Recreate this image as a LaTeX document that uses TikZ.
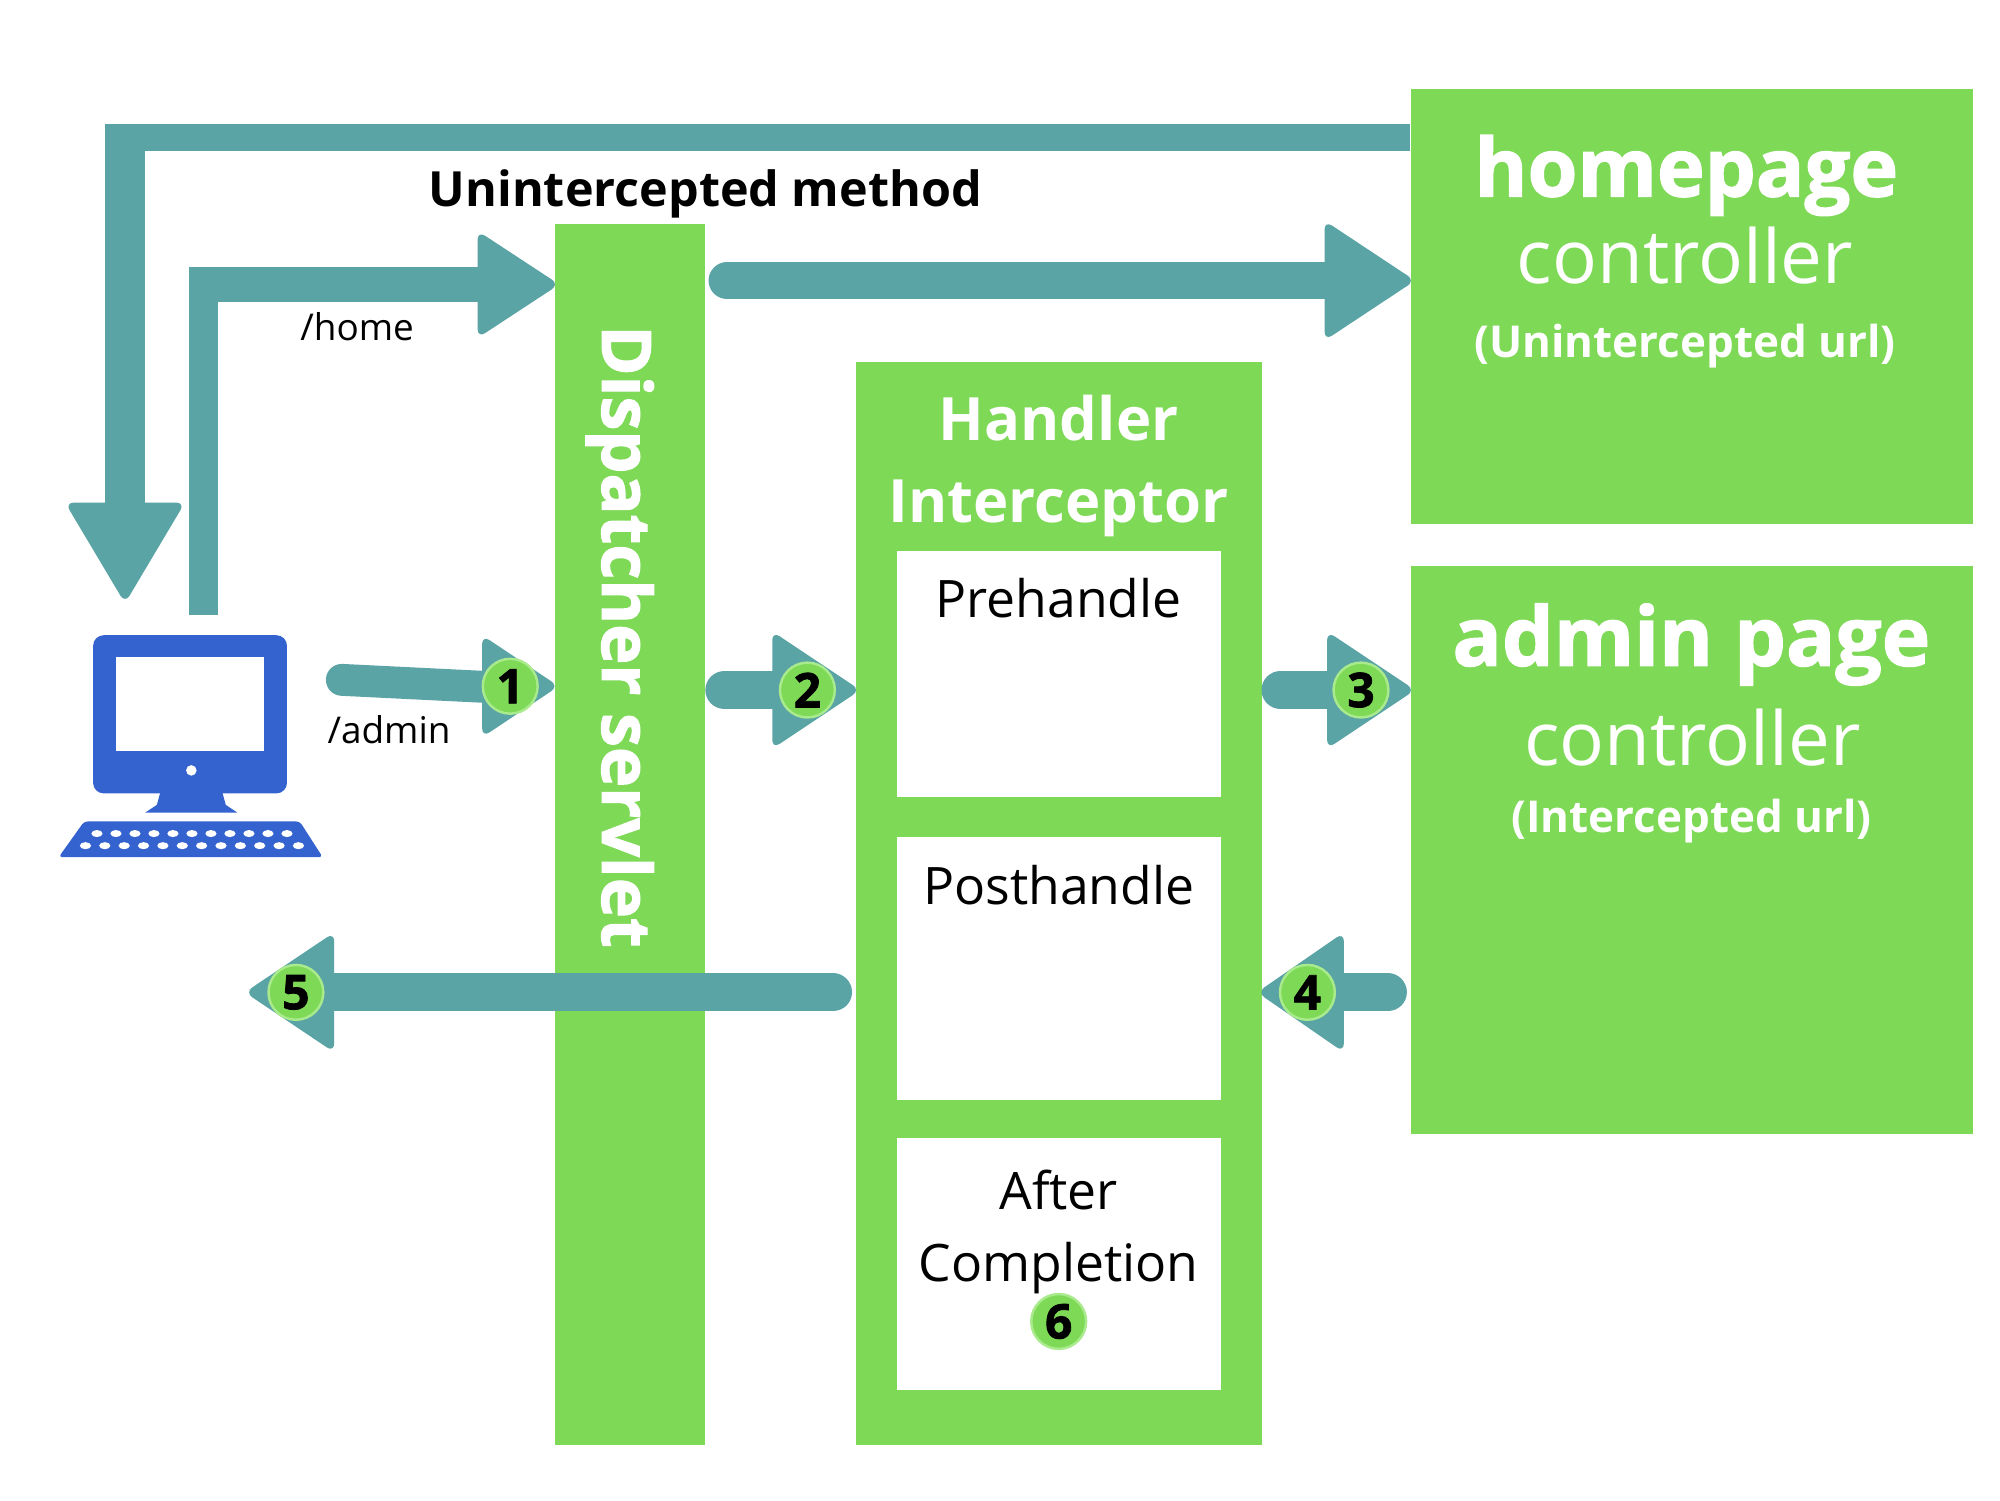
\documentclass[tikz,border=0pt]{standalone}
\usepackage{fontspec}
\setmainfont{Open Sans}
\newfontfamily\heavyfont{Open Sans}[BoldFeatures={FakeBold=1.6}]
\usetikzlibrary{fit,calc}
\definecolor{grn}{HTML}{7ED957}
\definecolor{tealc}{HTML}{5AA4A5}
\definecolor{pcblue}{HTML}{3462CF}
\definecolor{ringc}{HTML}{A8EA8C}
\newcommand\upx{0.36292pt}
\newcommand\fsz[1]{\fontsize{#1pt}{#1pt}\selectfont}
% right/left/down pointing arrow heads: tip, length, half width
\newcommand\headR[3]{\fill[arrhead] ($(#1)+(-#2-2,-#3-2)$) -- ($(#1)+(4,0)$) -- ($(#1)+(-#2-2,#3+2)$) -- cycle;}
\newcommand\headL[3]{\fill[arrhead] ($(#1)+(#2+2,-#3-2)$) -- ($(#1)+(-4,0)$) -- ($(#1)+(#2+2,#3+2)$) -- cycle;}
\newcommand\headD[3]{\fill[arrhead] ($(#1)+(-#3-2,-#2-2)$) -- ($(#1)+(0,4)$) -- ($(#1)+(#3+2,-#2-2)$) -- cycle;}
\begin{document}
\begin{tikzpicture}[x=0.012755cm,y=-0.012755cm,
  gbox/.style={fill=grn, inner sep=0pt, draw=none},
  wbox/.style={fill=white, inner sep=0pt, draw=none},
  arrbar/.style={draw=tealc, line width=#1*\upx},
  arrhead/.style={fill=tealc, rounded corners=2.5pt},
  badge/.style={circle, fill=grn, draw=ringc, line width=0.7pt, minimum size=43*\upx, inner sep=0pt, font=\heavyfont\bfseries\fsz{13.6}, text=black},
  wtext/.style={text=white, anchor=base},
  btext/.style={text=black, anchor=base},
]
\fill[white] (0,0) rectangle (1568,1176);
\useasboundingbox (0,0) rectangle (1568,1176);

% boxes
\node[gbox, fit={(435,176) (553,1133)}] (disp) {};
\node[gbox, fit={(671,284) (989,1133)}] (hi) {};
\node[wbox, fit={(703,432) (957,625)}] (pre) {};
\node[wbox, fit={(703,656) (957,862)}] (post) {};
\node[wbox, fit={(703,892) (957,1090)}] (after) {};
\node[gbox, fit={(1106,70) (1547,411)}] (home) {};
\node[gbox, fit={(1106,444) (1547,889)}] (admin) {};

% helper coordinates
\coordinate (y107) at (0,107.5);
\coordinate (y223) at (0,223);
\coordinate (y220) at (0,220);
\coordinate (y541) at (0,541);
\coordinate (y778) at (0,778);

% computer icon
\fill[pcblue, rounded corners=3pt] (73,498) rectangle (225,622);
\fill[white] (91,515) rectangle (207,589);
\fill[white] (150,604) circle (1.5pt);
\fill[pcblue] (126,620) -- (174,620) -- (177,631) -- (186,637) -- (114,637) -- (123,631) -- cycle;
\fill[pcblue, rounded corners=1pt] (66,644) -- (235,644) -- (253,672) -- (46,672) -- cycle;
\foreach \i in {0,...,10} { \fill[white] (76+\i*14.9,653.5) ellipse (1.6pt and 1pt); }
\foreach \i in {0,...,11} { \fill[white] (67+\i*15.18,663) ellipse (1.6pt and 1pt); }
\node[fit={(46,498) (253,672)}, inner sep=0pt] (pc) {};

% return arrow (homepage -> client)
\draw[arrbar=21] (home.west |- y107) -- (83,107.5);
\draw[arrbar=32] (98,97) -- (98,400);
\coordinate (tipR) at (98,469);
\headD{tipR}{73}{45}

% /home arrow
\draw[arrbar=23] (159.5,482) -- (159.5,209);
\draw[arrbar=28] (148,223) -- (380,223);
\coordinate (tipH) at (disp.west |- y223);
\headR{tipH}{58}{40}

% dispatcher -> homepage
\draw[arrbar=29, line cap=round] (570,220) -- (1045,220);
\coordinate (tipT) at (home.west |- y220);
\headR{tipT}{65}{45}

% 1
\draw[arrbar=25, line cap=round] (268,533) -- (390,539);
\coordinate (tip1) at (434,538);
\headR{tip1}{54}{38}
% 2
\draw[arrbar=30, line cap=round] (568,541) -- (612,541);
\coordinate (tip2) at (hi.west |- y541);
\headR{tip2}{63}{44}
% 3
\draw[arrbar=30, line cap=round] (1004,541) -- (1048,541);
\coordinate (tip3) at (admin.west |- y541);
\headR{tip3}{63}{44}
% 4
\draw[arrbar=30, line cap=round] (1088,778) -- (1045,778);
\coordinate (tip4) at (hi.east |- y778);
\headL{tip4}{62}{45}
% 5
\draw[arrbar=30, line cap=round] (653,778) -- (255,778);
\coordinate (tip5) at (196,778);
\headL{tip5}{64}{45}

% badges
\node[badge] (b1) at (400,538) {1};
\node[badge] (b2) at (633,541) {2};
\node[badge] (b3) at (1067,541) {3};
\node[badge] (b4) at (1025,778) {4};
\node[badge] (b5) at (232,778) {5};
\node[badge] (b6) at (830,1036) {6};

% texts
\node[btext, font=\bfseries\fsz{13.8}] (unm) at (553,162) {Unintercepted method};
\node[btext, font=\fsz{10.5}] (lhome) at (280,267) {/home};
\node[btext, font=\fsz{10.5}] (ladmin) at (305,583) {/admin};
\node[rotate=-90, anchor=base, text=white, font=\heavyfont\bfseries\fsz{19.4}] (dispt) at (472,499) {Dispatcher servlet};

\node[wtext, font=\heavyfont\bfseries\fsz{23}] (hp1) at (1322,154) {homepage};
\node[wtext, font=\fsz{21.2}] (hp2) at (1321,222) {controller};
\node[wtext, font=\bfseries\fsz{12.5}] (hp3) at (1321,280) {(Unintercepted url)};

\node[wtext, font=\heavyfont\bfseries\fsz{23.3}] (ad1) at (1326,522) {admin page};
\node[wtext, font=\fsz{21.2}] (ad2) at (1327,600) {controller};
\node[wtext, font=\bfseries\fsz{12.5}] (ad3) at (1326,653) {(Intercepted url)};

\node[wtext, font=\bfseries\fsz{17}] (hi1) at (830,345) {Handler};
\node[wtext, font=\bfseries\fsz{17}] (hi2) at (830,410) {Interceptor};

\node[btext, font=\fsz{14.7}] (pret) at (830,484) {Prehandle};
\node[btext, font=\fsz{14.7}] (postt) at (830,709) {Posthandle};
\node[btext, font=\fsz{14.7}] (aftt1) at (830,948) {After};
\node[btext, font=\fsz{14.7}] (aftt2) at (830,1005) {Completion};
\end{tikzpicture}
\end{document}
